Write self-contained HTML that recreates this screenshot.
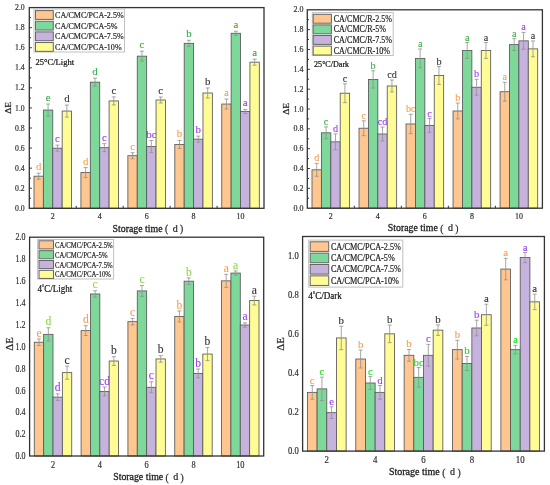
<!DOCTYPE html>
<html><head><meta charset="utf-8"><style>
html,body{margin:0;padding:0;background:#fff;width:550px;height:485px;overflow:hidden}
svg{display:block;filter:blur(0.35px)}
text{font-family:"Liberation Serif",serif}
</style></head><body>
<svg width="550" height="485" viewBox="0 0 550 485">
<rect width="550" height="485" fill="#fff"/>
<rect x="33.99" y="176.19" width="9.39" height="32.11" fill="#FFC690" stroke="#585858" stroke-width="0.85"/>
<path d="M38.69 173.18V179.2M36.69 173.18H40.69M36.69 179.2H40.69" stroke="#909090" stroke-width="0.8" fill="none"/>
<text x="38.69" y="170.18" text-anchor="middle" font-size="10.8" fill="#F5A050" stroke="#F5A050" stroke-width="0.12">d</text>
<rect x="43.38" y="110.06" width="9.39" height="98.24" fill="#7DD89A" stroke="#585858" stroke-width="0.85"/>
<path d="M48.08 104.04V116.08M46.08 104.04H50.08M46.08 116.08H50.08" stroke="#909090" stroke-width="0.8" fill="none"/>
<text x="48.08" y="101.04" text-anchor="middle" font-size="10.8" fill="#2DB04A" stroke="#2DB04A" stroke-width="0.12">e</text>
<rect x="52.77" y="148.19" width="9.39" height="60.11" fill="#C6B3DD" stroke="#585858" stroke-width="0.85"/>
<path d="M57.46 145.18V151.2M55.46 145.18H59.46M55.46 151.2H59.46" stroke="#909090" stroke-width="0.8" fill="none"/>
<text x="57.46" y="142.18" text-anchor="middle" font-size="10.8" fill="#A040F0" stroke="#A040F0" stroke-width="0.12">c</text>
<rect x="62.16" y="111.06" width="9.39" height="97.24" fill="#FFFB95" stroke="#585858" stroke-width="0.85"/>
<path d="M66.85 105.04V117.08M64.85 105.04H68.85M64.85 117.08H68.85" stroke="#909090" stroke-width="0.8" fill="none"/>
<text x="66.85" y="102.04" text-anchor="middle" font-size="10.8" fill="#333333" stroke="#333333" stroke-width="0.12">d</text>
<rect x="80.93" y="172.58" width="9.39" height="35.72" fill="#FFC690" stroke="#585858" stroke-width="0.85"/>
<path d="M85.63 167.56V177.59M83.63 167.56H87.63M83.63 177.59H87.63" stroke="#909090" stroke-width="0.8" fill="none"/>
<text x="85.63" y="164.56" text-anchor="middle" font-size="10.8" fill="#F5A050" stroke="#F5A050" stroke-width="0.12">d</text>
<rect x="90.32" y="82.16" width="9.39" height="126.14" fill="#7DD89A" stroke="#585858" stroke-width="0.85"/>
<path d="M95.02 78.15V86.17M93.02 78.15H97.02M93.02 86.17H97.02" stroke="#909090" stroke-width="0.8" fill="none"/>
<text x="95.02" y="75.15" text-anchor="middle" font-size="10.8" fill="#2DB04A" stroke="#2DB04A" stroke-width="0.12">d</text>
<rect x="99.71" y="147.69" width="9.39" height="60.61" fill="#C6B3DD" stroke="#585858" stroke-width="0.85"/>
<path d="M104.4 143.67V151.7M102.4 143.67H106.4M102.4 151.7H106.4" stroke="#909090" stroke-width="0.8" fill="none"/>
<text x="104.4" y="140.67" text-anchor="middle" font-size="10.8" fill="#A040F0" stroke="#A040F0" stroke-width="0.12">c</text>
<rect x="109.1" y="100.93" width="9.39" height="107.37" fill="#FFFB95" stroke="#585858" stroke-width="0.85"/>
<path d="M113.79 96.91V104.94M111.79 96.91H115.79M111.79 104.94H115.79" stroke="#909090" stroke-width="0.8" fill="none"/>
<text x="113.79" y="93.91" text-anchor="middle" font-size="10.8" fill="#333333" stroke="#333333" stroke-width="0.12">c</text>
<rect x="127.87" y="155.72" width="9.39" height="52.58" fill="#FFC690" stroke="#585858" stroke-width="0.85"/>
<path d="M132.57 152.71V158.73M130.57 152.71H134.57M130.57 158.73H134.57" stroke="#909090" stroke-width="0.8" fill="none"/>
<text x="132.57" y="149.71" text-anchor="middle" font-size="10.8" fill="#F5A050" stroke="#F5A050" stroke-width="0.12">c</text>
<rect x="137.26" y="56.17" width="9.39" height="152.13" fill="#7DD89A" stroke="#585858" stroke-width="0.85"/>
<path d="M141.96 51.15V61.19M139.96 51.15H143.96M139.96 61.19H143.96" stroke="#909090" stroke-width="0.8" fill="none"/>
<text x="141.96" y="48.15" text-anchor="middle" font-size="10.8" fill="#5BA033" stroke="#5BA033" stroke-width="0.12">c</text>
<rect x="146.65" y="146.58" width="9.39" height="61.72" fill="#C6B3DD" stroke="#585858" stroke-width="0.85"/>
<path d="M151.34 140.56V152.61M149.34 140.56H153.34M149.34 152.61H153.34" stroke="#909090" stroke-width="0.8" fill="none"/>
<text x="151.34" y="137.56" text-anchor="middle" font-size="10.8" fill="#A040F0" stroke="#A040F0" stroke-width="0.12">bc</text>
<rect x="156.04" y="100.02" width="9.39" height="108.28" fill="#FFFB95" stroke="#585858" stroke-width="0.85"/>
<path d="M160.73 97.01V103.03M158.73 97.01H162.73M158.73 103.03H162.73" stroke="#909090" stroke-width="0.8" fill="none"/>
<text x="160.73" y="94.01" text-anchor="middle" font-size="10.8" fill="#333333" stroke="#333333" stroke-width="0.12">c</text>
<rect x="174.81" y="144.48" width="9.39" height="63.82" fill="#FFC690" stroke="#585858" stroke-width="0.85"/>
<path d="M179.51 140.46V148.49M177.51 140.46H181.51M177.51 148.49H181.51" stroke="#909090" stroke-width="0.8" fill="none"/>
<text x="179.51" y="137.46" text-anchor="middle" font-size="10.8" fill="#F5A050" stroke="#F5A050" stroke-width="0.12">b</text>
<rect x="184.2" y="43.32" width="9.39" height="164.98" fill="#7DD89A" stroke="#585858" stroke-width="0.85"/>
<path d="M188.9 40.31V46.34M186.9 40.31H190.9M186.9 46.34H190.9" stroke="#909090" stroke-width="0.8" fill="none"/>
<text x="188.9" y="37.31" text-anchor="middle" font-size="10.8" fill="#2DB04A" stroke="#2DB04A" stroke-width="0.12">b</text>
<rect x="193.59" y="139.16" width="9.39" height="69.14" fill="#C6B3DD" stroke="#585858" stroke-width="0.85"/>
<path d="M198.28 136.15V142.17M196.28 136.15H200.28M196.28 142.17H200.28" stroke="#909090" stroke-width="0.8" fill="none"/>
<text x="198.28" y="133.15" text-anchor="middle" font-size="10.8" fill="#A040F0" stroke="#A040F0" stroke-width="0.12">b</text>
<rect x="202.98" y="93" width="9.39" height="115.3" fill="#FFFB95" stroke="#585858" stroke-width="0.85"/>
<path d="M207.67 87.98V98.02M205.67 87.98H209.67M205.67 98.02H209.67" stroke="#909090" stroke-width="0.8" fill="none"/>
<text x="207.67" y="84.98" text-anchor="middle" font-size="10.8" fill="#333333" stroke="#333333" stroke-width="0.12">b</text>
<rect x="221.75" y="104.04" width="9.39" height="104.26" fill="#FFC690" stroke="#585858" stroke-width="0.85"/>
<path d="M226.45 99.02V109.05M224.45 99.02H228.45M224.45 109.05H228.45" stroke="#909090" stroke-width="0.8" fill="none"/>
<text x="226.45" y="96.02" text-anchor="middle" font-size="10.8" fill="#F5A050" stroke="#F5A050" stroke-width="0.12">a</text>
<rect x="231.14" y="33.29" width="9.39" height="175.01" fill="#7DD89A" stroke="#585858" stroke-width="0.85"/>
<path d="M235.84 31.28V35.3M233.84 31.28H237.84M233.84 35.3H237.84" stroke="#909090" stroke-width="0.8" fill="none"/>
<text x="235.84" y="28.28" text-anchor="middle" font-size="10.8" fill="#6E9A30" stroke="#6E9A30" stroke-width="0.12">a</text>
<rect x="240.53" y="111.46" width="9.39" height="96.84" fill="#C6B3DD" stroke="#585858" stroke-width="0.85"/>
<path d="M245.22 109.46V113.47M243.22 109.46H247.22M243.22 113.47H247.22" stroke="#909090" stroke-width="0.8" fill="none"/>
<text x="245.22" y="106.46" text-anchor="middle" font-size="10.8" fill="#A040F0" stroke="#A040F0" stroke-width="0.12">a</text>
<rect x="249.92" y="62.19" width="9.39" height="146.11" fill="#FFFB95" stroke="#585858" stroke-width="0.85"/>
<path d="M254.61 59.18V65.2M252.61 59.18H256.61M252.61 65.2H256.61" stroke="#909090" stroke-width="0.8" fill="none"/>
<text x="254.61" y="56.18" text-anchor="middle" font-size="10.8" fill="#2DB04A" stroke="#2DB04A" stroke-width="0.12">a</text>
<rect x="29.3" y="7.6" width="234.7" height="200.7" fill="none" stroke="#333" stroke-width="1.3"/>
<path d="M29.3 198.27h1.7M29.3 188.23h2.6M29.3 178.19h1.7M29.3 168.16h2.6M29.3 158.12h1.7M29.3 148.09h2.6M29.3 138.06h1.7M29.3 128.02h2.6M29.3 117.98h1.7M29.3 107.95h2.6M29.3 97.91h1.7M29.3 87.88h2.6M29.3 77.84h1.7M29.3 67.81h2.6M29.3 57.78h1.7M29.3 47.74h2.6M29.3 37.7h1.7M29.3 27.67h2.6M29.3 17.63h1.7M76.24 208.3v-2.5M123.18 208.3v-2.5M170.12 208.3v-2.5M217.06 208.3v-2.5" stroke="#333" stroke-width="1" fill="none"/>
<text x="24.7" y="210.9" text-anchor="end" font-size="8.4" fill="#333" stroke="#333" stroke-width="0.2" textLength="9.66" lengthAdjust="spacingAndGlyphs">0.0</text>
<text x="24.7" y="190.83" text-anchor="end" font-size="8.4" fill="#333" stroke="#333" stroke-width="0.2" textLength="9.66" lengthAdjust="spacingAndGlyphs">0.2</text>
<text x="24.7" y="170.76" text-anchor="end" font-size="8.4" fill="#333" stroke="#333" stroke-width="0.2" textLength="9.66" lengthAdjust="spacingAndGlyphs">0.4</text>
<text x="24.7" y="150.69" text-anchor="end" font-size="8.4" fill="#333" stroke="#333" stroke-width="0.2" textLength="9.66" lengthAdjust="spacingAndGlyphs">0.6</text>
<text x="24.7" y="130.62" text-anchor="end" font-size="8.4" fill="#333" stroke="#333" stroke-width="0.2" textLength="9.66" lengthAdjust="spacingAndGlyphs">0.8</text>
<text x="24.7" y="110.55" text-anchor="end" font-size="8.4" fill="#333" stroke="#333" stroke-width="0.2" textLength="9.66" lengthAdjust="spacingAndGlyphs">1.0</text>
<text x="24.7" y="90.48" text-anchor="end" font-size="8.4" fill="#333" stroke="#333" stroke-width="0.2" textLength="9.66" lengthAdjust="spacingAndGlyphs">1.2</text>
<text x="24.7" y="70.41" text-anchor="end" font-size="8.4" fill="#333" stroke="#333" stroke-width="0.2" textLength="9.66" lengthAdjust="spacingAndGlyphs">1.4</text>
<text x="24.7" y="50.34" text-anchor="end" font-size="8.4" fill="#333" stroke="#333" stroke-width="0.2" textLength="9.66" lengthAdjust="spacingAndGlyphs">1.6</text>
<text x="24.7" y="30.27" text-anchor="end" font-size="8.4" fill="#333" stroke="#333" stroke-width="0.2" textLength="9.66" lengthAdjust="spacingAndGlyphs">1.8</text>
<text x="24.7" y="10.2" text-anchor="end" font-size="8.4" fill="#333" stroke="#333" stroke-width="0.2" textLength="9.66" lengthAdjust="spacingAndGlyphs">2.0</text>
<text x="52.77" y="219.1" text-anchor="middle" font-size="8.4" fill="#333" stroke="#333" stroke-width="0.2" textLength="3.99" lengthAdjust="spacingAndGlyphs">2</text>
<text x="99.71" y="219.1" text-anchor="middle" font-size="8.4" fill="#333" stroke="#333" stroke-width="0.2" textLength="3.99" lengthAdjust="spacingAndGlyphs">4</text>
<text x="146.65" y="219.1" text-anchor="middle" font-size="8.4" fill="#333" stroke="#333" stroke-width="0.2" textLength="3.99" lengthAdjust="spacingAndGlyphs">6</text>
<text x="193.59" y="219.1" text-anchor="middle" font-size="8.4" fill="#333" stroke="#333" stroke-width="0.2" textLength="3.99" lengthAdjust="spacingAndGlyphs">8</text>
<text x="240.53" y="219.1" text-anchor="middle" font-size="8.4" fill="#333" stroke="#333" stroke-width="0.2" textLength="7.98" lengthAdjust="spacingAndGlyphs">10</text>
<text x="112.6" y="231.5" font-size="10" fill="#222" stroke="#222" stroke-width="0.3" textLength="50" lengthAdjust="spacingAndGlyphs">Storage time</text>
<text x="166.6" y="232.1" font-size="9.6" fill="#222" stroke="#222" stroke-width="0.2" text-anchor="middle">(</text>
<text x="175.2" y="231.5" font-size="10" fill="#222" stroke="#222" stroke-width="0.2" text-anchor="middle">d</text>
<text x="181.6" y="232.1" font-size="9.6" fill="#222" stroke="#222" stroke-width="0.2" text-anchor="middle">)</text>
<text transform="translate(10.84 107.85) rotate(-90)" text-anchor="middle" font-size="9.2" fill="#222" stroke="#222" stroke-width="0.2" textLength="11.9" lengthAdjust="spacingAndGlyphs">ΔE</text>
<rect x="34" y="9" width="90.5" height="43" fill="#fff" stroke="#c0c0c0" stroke-width="1"/>
<rect x="35.5" y="10.6" width="17.8" height="8.8" fill="#FFC690" stroke="#666" stroke-width="1"/>
<text x="55.1" y="18" font-size="9.2" fill="#222" stroke="#222" stroke-width="0.2" textLength="68.5" lengthAdjust="spacingAndGlyphs">CA/CMC/PCA-2.5%</text>
<rect x="35.5" y="21.25" width="17.8" height="8.8" fill="#7DD89A" stroke="#666" stroke-width="1"/>
<text x="55.1" y="28.65" font-size="9.2" fill="#222" stroke="#222" stroke-width="0.2" textLength="62.48" lengthAdjust="spacingAndGlyphs">CA/CMC/PCA-5%</text>
<rect x="35.5" y="31.9" width="17.8" height="8.8" fill="#C6B3DD" stroke="#666" stroke-width="1"/>
<text x="55.1" y="39.3" font-size="9.2" fill="#222" stroke="#222" stroke-width="0.2" textLength="68.5" lengthAdjust="spacingAndGlyphs">CA/CMC/PCA-7.5%</text>
<rect x="35.5" y="42.55" width="17.8" height="8.8" fill="#FFFB95" stroke="#666" stroke-width="1"/>
<text x="55.1" y="49.95" font-size="9.2" fill="#222" stroke="#222" stroke-width="0.2" textLength="66.49" lengthAdjust="spacingAndGlyphs">CA/CMC/PCA-10%</text>
<text x="35.5" y="64.7" font-size="9.2" fill="#111" textLength="38.6" lengthAdjust="spacingAndGlyphs" stroke="#111" stroke-width="0.22">25°C/Light</text>
<rect x="312" y="169.81" width="9.4" height="38.39" fill="#FFC690" stroke="#585858" stroke-width="0.85"/>
<path d="M316.7 163.36V176.26M314.7 163.36H318.7M314.7 176.26H318.7" stroke="#909090" stroke-width="0.8" fill="none"/>
<text x="316.7" y="161.36" text-anchor="middle" font-size="10.2" fill="#F5A050" stroke="#F5A050" stroke-width="0.12">d</text>
<rect x="321.41" y="132.81" width="9.4" height="75.39" fill="#7DD89A" stroke="#585858" stroke-width="0.85"/>
<path d="M326.11 126.86V138.76M324.11 126.86H328.11M324.11 138.76H328.11" stroke="#909090" stroke-width="0.8" fill="none"/>
<text x="326.11" y="124.86" text-anchor="middle" font-size="10.2" fill="#3CB043" stroke="#3CB043" stroke-width="0.12">c</text>
<rect x="330.81" y="141.84" width="9.4" height="66.36" fill="#C6B3DD" stroke="#585858" stroke-width="0.85"/>
<path d="M335.51 133.9V149.77M333.51 133.9H337.51M333.51 149.77H337.51" stroke="#909090" stroke-width="0.8" fill="none"/>
<text x="335.51" y="131.9" text-anchor="middle" font-size="10.2" fill="#A040F0" stroke="#A040F0" stroke-width="0.12">d</text>
<rect x="340.21" y="93.23" width="9.4" height="114.97" fill="#FFFB95" stroke="#585858" stroke-width="0.85"/>
<path d="M344.92 83.8V102.65M342.92 83.8H346.92M342.92 102.65H346.92" stroke="#909090" stroke-width="0.8" fill="none"/>
<text x="344.92" y="81.8" text-anchor="middle" font-size="10.2" fill="#333333" stroke="#333333" stroke-width="0.12">c</text>
<rect x="359.02" y="128.24" width="9.4" height="79.96" fill="#FFC690" stroke="#585858" stroke-width="0.85"/>
<path d="M363.72 120.8V135.68M361.72 120.8H365.72M361.72 135.68H365.72" stroke="#909090" stroke-width="0.8" fill="none"/>
<text x="363.72" y="118.8" text-anchor="middle" font-size="10.2" fill="#F5A050" stroke="#F5A050" stroke-width="0.12">c</text>
<rect x="368.43" y="79.44" width="9.4" height="128.76" fill="#7DD89A" stroke="#585858" stroke-width="0.85"/>
<path d="M373.13 70.81V88.07M371.13 70.81H375.13M371.13 88.07H375.13" stroke="#909090" stroke-width="0.8" fill="none"/>
<text x="373.13" y="68.81" text-anchor="middle" font-size="10.2" fill="#3CB043" stroke="#3CB043" stroke-width="0.12">b</text>
<rect x="377.83" y="134" width="9.4" height="74.2" fill="#C6B3DD" stroke="#585858" stroke-width="0.85"/>
<path d="M382.53 127.05V140.94M380.53 127.05H384.53M380.53 140.94H384.53" stroke="#909090" stroke-width="0.8" fill="none"/>
<text x="382.53" y="125.05" text-anchor="middle" font-size="10.2" fill="#A040F0" stroke="#A040F0" stroke-width="0.12">cd</text>
<rect x="387.23" y="85.99" width="9.4" height="122.21" fill="#FFFB95" stroke="#585858" stroke-width="0.85"/>
<path d="M391.94 80.03V91.94M389.94 80.03H393.94M389.94 91.94H393.94" stroke="#909090" stroke-width="0.8" fill="none"/>
<text x="391.94" y="78.03" text-anchor="middle" font-size="10.2" fill="#333333" stroke="#333333" stroke-width="0.12">cd</text>
<rect x="406.04" y="123.98" width="9.4" height="84.22" fill="#FFC690" stroke="#585858" stroke-width="0.85"/>
<path d="M410.74 114.26V133.7M408.74 114.26H412.74M408.74 133.7H412.74" stroke="#909090" stroke-width="0.8" fill="none"/>
<text x="410.74" y="112.26" text-anchor="middle" font-size="10.2" fill="#F5A050" stroke="#F5A050" stroke-width="0.12">bc</text>
<rect x="415.45" y="58.41" width="9.4" height="149.79" fill="#7DD89A" stroke="#585858" stroke-width="0.85"/>
<path d="M420.15 48.98V67.83M418.15 48.98H422.15M418.15 67.83H422.15" stroke="#909090" stroke-width="0.8" fill="none"/>
<text x="420.15" y="46.98" text-anchor="middle" font-size="10.2" fill="#3CB043" stroke="#3CB043" stroke-width="0.12">a</text>
<rect x="424.85" y="125.47" width="9.4" height="82.73" fill="#C6B3DD" stroke="#585858" stroke-width="0.85"/>
<path d="M429.55 118.52V132.41M427.55 118.52H431.55M427.55 132.41H431.55" stroke="#909090" stroke-width="0.8" fill="none"/>
<text x="429.55" y="116.52" text-anchor="middle" font-size="10.2" fill="#A040F0" stroke="#A040F0" stroke-width="0.12">c</text>
<rect x="434.25" y="75.47" width="9.4" height="132.73" fill="#FFFB95" stroke="#585858" stroke-width="0.85"/>
<path d="M438.96 66.54V84.4M436.96 66.54H440.96M436.96 84.4H440.96" stroke="#909090" stroke-width="0.8" fill="none"/>
<text x="438.96" y="64.54" text-anchor="middle" font-size="10.2" fill="#333333" stroke="#333333" stroke-width="0.12">b</text>
<rect x="453.06" y="110.98" width="9.4" height="97.22" fill="#FFC690" stroke="#585858" stroke-width="0.85"/>
<path d="M457.76 103.05V118.92M455.76 103.05H459.76M455.76 118.92H459.76" stroke="#909090" stroke-width="0.8" fill="none"/>
<text x="457.76" y="101.05" text-anchor="middle" font-size="10.2" fill="#F5A050" stroke="#F5A050" stroke-width="0.12">b</text>
<rect x="462.47" y="50.47" width="9.4" height="157.73" fill="#7DD89A" stroke="#585858" stroke-width="0.85"/>
<path d="M467.17 42.54V58.41M465.17 42.54H469.17M465.17 58.41H469.17" stroke="#909090" stroke-width="0.8" fill="none"/>
<text x="467.17" y="40.54" text-anchor="middle" font-size="10.2" fill="#3CB043" stroke="#3CB043" stroke-width="0.12">a</text>
<rect x="471.87" y="87.28" width="9.4" height="120.92" fill="#C6B3DD" stroke="#585858" stroke-width="0.85"/>
<path d="M476.57 79.34V95.21M474.57 79.34H478.57M474.57 95.21H478.57" stroke="#909090" stroke-width="0.8" fill="none"/>
<text x="476.57" y="77.34" text-anchor="middle" font-size="10.2" fill="#A040F0" stroke="#A040F0" stroke-width="0.12">b</text>
<rect x="481.27" y="50.47" width="9.4" height="157.73" fill="#FFFB95" stroke="#585858" stroke-width="0.85"/>
<path d="M485.98 42.54V58.41M483.98 42.54H487.98M483.98 58.41H487.98" stroke="#909090" stroke-width="0.8" fill="none"/>
<text x="485.98" y="40.54" text-anchor="middle" font-size="10.2" fill="#333333" stroke="#333333" stroke-width="0.12">a</text>
<rect x="500.08" y="91.74" width="9.4" height="116.46" fill="#FFC690" stroke="#585858" stroke-width="0.85"/>
<path d="M504.78 82.32V101.16M502.78 82.32H506.78M502.78 101.16H506.78" stroke="#909090" stroke-width="0.8" fill="none"/>
<text x="504.78" y="80.32" text-anchor="middle" font-size="10.2" fill="#F5A050" stroke="#F5A050" stroke-width="0.12">a</text>
<rect x="509.49" y="44.62" width="9.4" height="163.58" fill="#7DD89A" stroke="#585858" stroke-width="0.85"/>
<path d="M514.19 38.67V50.57M512.19 38.67H516.19M512.19 50.57H516.19" stroke="#909090" stroke-width="0.8" fill="none"/>
<text x="514.19" y="36.67" text-anchor="middle" font-size="10.2" fill="#3CB043" stroke="#3CB043" stroke-width="0.12">a</text>
<rect x="518.89" y="40.85" width="9.4" height="167.35" fill="#C6B3DD" stroke="#585858" stroke-width="0.85"/>
<path d="M523.59 32.42V49.28M521.59 32.42H525.59M521.59 49.28H525.59" stroke="#909090" stroke-width="0.8" fill="none"/>
<text x="523.59" y="30.42" text-anchor="middle" font-size="10.2" fill="#A040F0" stroke="#A040F0" stroke-width="0.12">a</text>
<rect x="528.29" y="48.88" width="9.4" height="159.32" fill="#FFFB95" stroke="#585858" stroke-width="0.85"/>
<path d="M533 40.95V56.82M531 40.95H535M531 56.82H535" stroke="#909090" stroke-width="0.8" fill="none"/>
<text x="533" y="38.95" text-anchor="middle" font-size="10.2" fill="#333333" stroke="#333333" stroke-width="0.12">a</text>
<rect x="307.3" y="9.8" width="235.1" height="198.4" fill="none" stroke="#333" stroke-width="1.3"/>
<path d="M307.3 198.28h1.7M307.3 188.36h2.6M307.3 178.44h1.7M307.3 168.52h2.6M307.3 158.6h1.7M307.3 148.68h2.6M307.3 138.76h1.7M307.3 128.84h2.6M307.3 118.92h1.7M307.3 109h2.6M307.3 99.08h1.7M307.3 89.16h2.6M307.3 79.24h1.7M307.3 69.32h2.6M307.3 59.4h1.7M307.3 49.48h2.6M307.3 39.56h1.7M307.3 29.64h2.6M307.3 19.72h1.7M354.32 208.2v-2.5M401.34 208.2v-2.5M448.36 208.2v-2.5M495.38 208.2v-2.5" stroke="#333" stroke-width="1" fill="none"/>
<text x="303.4" y="210.8" text-anchor="end" font-size="8.4" fill="#333" stroke="#333" stroke-width="0.2" textLength="9.97" lengthAdjust="spacingAndGlyphs">0.0</text>
<text x="303.4" y="190.96" text-anchor="end" font-size="8.4" fill="#333" stroke="#333" stroke-width="0.2" textLength="9.97" lengthAdjust="spacingAndGlyphs">0.2</text>
<text x="303.4" y="171.12" text-anchor="end" font-size="8.4" fill="#333" stroke="#333" stroke-width="0.2" textLength="9.97" lengthAdjust="spacingAndGlyphs">0.4</text>
<text x="303.4" y="151.28" text-anchor="end" font-size="8.4" fill="#333" stroke="#333" stroke-width="0.2" textLength="9.97" lengthAdjust="spacingAndGlyphs">0.6</text>
<text x="303.4" y="131.44" text-anchor="end" font-size="8.4" fill="#333" stroke="#333" stroke-width="0.2" textLength="9.97" lengthAdjust="spacingAndGlyphs">0.8</text>
<text x="303.4" y="111.6" text-anchor="end" font-size="8.4" fill="#333" stroke="#333" stroke-width="0.2" textLength="9.97" lengthAdjust="spacingAndGlyphs">1.0</text>
<text x="303.4" y="91.76" text-anchor="end" font-size="8.4" fill="#333" stroke="#333" stroke-width="0.2" textLength="9.97" lengthAdjust="spacingAndGlyphs">1.2</text>
<text x="303.4" y="71.92" text-anchor="end" font-size="8.4" fill="#333" stroke="#333" stroke-width="0.2" textLength="9.97" lengthAdjust="spacingAndGlyphs">1.4</text>
<text x="303.4" y="52.08" text-anchor="end" font-size="8.4" fill="#333" stroke="#333" stroke-width="0.2" textLength="9.97" lengthAdjust="spacingAndGlyphs">1.6</text>
<text x="303.4" y="32.24" text-anchor="end" font-size="8.4" fill="#333" stroke="#333" stroke-width="0.2" textLength="9.97" lengthAdjust="spacingAndGlyphs">1.8</text>
<text x="303.4" y="12.4" text-anchor="end" font-size="8.4" fill="#333" stroke="#333" stroke-width="0.2" textLength="9.97" lengthAdjust="spacingAndGlyphs">2.0</text>
<text x="330.81" y="219" text-anchor="middle" font-size="8.4" fill="#333" stroke="#333" stroke-width="0.2" textLength="3.99" lengthAdjust="spacingAndGlyphs">2</text>
<text x="377.83" y="219" text-anchor="middle" font-size="8.4" fill="#333" stroke="#333" stroke-width="0.2" textLength="3.99" lengthAdjust="spacingAndGlyphs">4</text>
<text x="424.85" y="219" text-anchor="middle" font-size="8.4" fill="#333" stroke="#333" stroke-width="0.2" textLength="3.99" lengthAdjust="spacingAndGlyphs">6</text>
<text x="471.87" y="219" text-anchor="middle" font-size="8.4" fill="#333" stroke="#333" stroke-width="0.2" textLength="3.99" lengthAdjust="spacingAndGlyphs">8</text>
<text x="518.89" y="219" text-anchor="middle" font-size="8.4" fill="#333" stroke="#333" stroke-width="0.2" textLength="7.98" lengthAdjust="spacingAndGlyphs">10</text>
<text x="387.8" y="230.9" font-size="10" fill="#222" stroke="#222" stroke-width="0.3" textLength="50" lengthAdjust="spacingAndGlyphs">Storage time</text>
<text x="441.8" y="231.5" font-size="9.6" fill="#222" stroke="#222" stroke-width="0.2" text-anchor="middle">(</text>
<text x="450.4" y="230.9" font-size="10" fill="#222" stroke="#222" stroke-width="0.2" text-anchor="middle">d</text>
<text x="456.8" y="231.5" font-size="9.6" fill="#222" stroke="#222" stroke-width="0.2" text-anchor="middle">)</text>
<text transform="translate(289.17 108.9) rotate(-90)" text-anchor="middle" font-size="9.0" fill="#222" stroke="#222" stroke-width="0.2" textLength="11.8" lengthAdjust="spacingAndGlyphs">ΔE</text>
<rect x="312.3" y="12.6" width="80.9" height="42.9" fill="#fff" stroke="#c0c0c0" stroke-width="1"/>
<rect x="313.2" y="14.3" width="18.2" height="8.9" fill="#FFC690" stroke="#666" stroke-width="1"/>
<text x="333.7" y="21.75" font-size="9.3" fill="#222" stroke="#222" stroke-width="0.2" textLength="58.2" lengthAdjust="spacingAndGlyphs">CA/CMC/R-2.5%</text>
<rect x="313.2" y="24.9" width="18.2" height="8.9" fill="#7DD89A" stroke="#666" stroke-width="1"/>
<text x="333.7" y="32.35" font-size="9.3" fill="#222" stroke="#222" stroke-width="0.2" textLength="52.18" lengthAdjust="spacingAndGlyphs">CA/CMC/R-5%</text>
<rect x="313.2" y="35.5" width="18.2" height="8.9" fill="#C6B3DD" stroke="#666" stroke-width="1"/>
<text x="333.7" y="42.95" font-size="9.3" fill="#222" stroke="#222" stroke-width="0.2" textLength="58.2" lengthAdjust="spacingAndGlyphs">CA/CMC/R-7.5%</text>
<rect x="313.2" y="46.1" width="18.2" height="8.9" fill="#FFFB95" stroke="#666" stroke-width="1"/>
<text x="333.7" y="53.55" font-size="9.3" fill="#222" stroke="#222" stroke-width="0.2" textLength="56.19" lengthAdjust="spacingAndGlyphs">CA/CMC/R-10%</text>
<text x="314.1" y="66.8" font-size="8.8" fill="#111" textLength="35" lengthAdjust="spacingAndGlyphs" stroke="#111" stroke-width="0.22">25°C/Dark</text>
<rect x="34.28" y="342.22" width="9.36" height="113.78" fill="#FFC690" stroke="#585858" stroke-width="0.85"/>
<path d="M38.96 338.94V345.51M36.96 338.94H40.96M36.96 345.51H40.96" stroke="#909090" stroke-width="0.8" fill="none"/>
<text x="38.96" y="336.54" text-anchor="middle" font-size="11.6" fill="#F5A050" stroke="#F5A050" stroke-width="0.12">e</text>
<rect x="43.65" y="334.35" width="9.36" height="121.65" fill="#7DD89A" stroke="#585858" stroke-width="0.85"/>
<path d="M48.33 327.78V340.91M46.33 327.78H50.33M46.33 340.91H50.33" stroke="#909090" stroke-width="0.8" fill="none"/>
<text x="48.33" y="325.38" text-anchor="middle" font-size="11.6" fill="#8FD84A" stroke="#8FD84A" stroke-width="0.12">d</text>
<rect x="53.01" y="397.14" width="9.36" height="58.86" fill="#C6B3DD" stroke="#585858" stroke-width="0.85"/>
<path d="M57.69 393.86V400.42M55.69 393.86H59.69M55.69 400.42H59.69" stroke="#909090" stroke-width="0.8" fill="none"/>
<text x="57.69" y="391.46" text-anchor="middle" font-size="11.6" fill="#A040F0" stroke="#A040F0" stroke-width="0.12">d</text>
<rect x="62.37" y="372.64" width="9.36" height="83.36" fill="#FFFB95" stroke="#585858" stroke-width="0.85"/>
<path d="M67.06 366.07V379.2M65.06 366.07H69.06M65.06 379.2H69.06" stroke="#909090" stroke-width="0.8" fill="none"/>
<text x="67.06" y="363.67" text-anchor="middle" font-size="11.6" fill="#333333" stroke="#333333" stroke-width="0.12">c</text>
<rect x="81.1" y="330.63" width="9.36" height="125.37" fill="#FFC690" stroke="#585858" stroke-width="0.85"/>
<path d="M85.78 325.7V335.55M83.78 325.7H87.78M83.78 335.55H87.78" stroke="#909090" stroke-width="0.8" fill="none"/>
<text x="85.78" y="323.3" text-anchor="middle" font-size="11.6" fill="#F5A050" stroke="#F5A050" stroke-width="0.12">d</text>
<rect x="90.47" y="293.98" width="9.36" height="162.02" fill="#7DD89A" stroke="#585858" stroke-width="0.85"/>
<path d="M95.15 290.7V297.26M93.15 290.7H97.15M93.15 297.26H97.15" stroke="#909090" stroke-width="0.8" fill="none"/>
<text x="95.15" y="288.3" text-anchor="middle" font-size="11.6" fill="#8FD84A" stroke="#8FD84A" stroke-width="0.12">c</text>
<rect x="99.83" y="391.45" width="9.36" height="64.55" fill="#C6B3DD" stroke="#585858" stroke-width="0.85"/>
<path d="M104.51 387.08V395.83M102.51 387.08H106.51M102.51 395.83H106.51" stroke="#909090" stroke-width="0.8" fill="none"/>
<text x="104.51" y="384.68" text-anchor="middle" font-size="11.6" fill="#A040F0" stroke="#A040F0" stroke-width="0.12">cd</text>
<rect x="109.19" y="361.04" width="9.36" height="94.96" fill="#FFFB95" stroke="#585858" stroke-width="0.85"/>
<path d="M113.88 356.66V365.42M111.88 356.66H115.88M111.88 365.42H115.88" stroke="#909090" stroke-width="0.8" fill="none"/>
<text x="113.88" y="354.26" text-anchor="middle" font-size="11.6" fill="#333333" stroke="#333333" stroke-width="0.12">b</text>
<rect x="127.92" y="321.66" width="9.36" height="134.34" fill="#FFC690" stroke="#585858" stroke-width="0.85"/>
<path d="M132.6 318.37V324.94M130.6 318.37H134.6M130.6 324.94H134.6" stroke="#909090" stroke-width="0.8" fill="none"/>
<text x="132.6" y="315.97" text-anchor="middle" font-size="11.6" fill="#F5A050" stroke="#F5A050" stroke-width="0.12">c</text>
<rect x="137.29" y="290.92" width="9.36" height="165.08" fill="#7DD89A" stroke="#585858" stroke-width="0.85"/>
<path d="M141.97 285.45V296.39M139.97 285.45H143.97M139.97 296.39H143.97" stroke="#909090" stroke-width="0.8" fill="none"/>
<text x="141.97" y="283.05" text-anchor="middle" font-size="11.6" fill="#8FD84A" stroke="#8FD84A" stroke-width="0.12">c</text>
<rect x="146.65" y="387.3" width="9.36" height="68.7" fill="#C6B3DD" stroke="#585858" stroke-width="0.85"/>
<path d="M151.33 381.83V392.77M149.33 381.83H153.33M149.33 392.77H153.33" stroke="#909090" stroke-width="0.8" fill="none"/>
<text x="151.33" y="379.43" text-anchor="middle" font-size="11.6" fill="#A040F0" stroke="#A040F0" stroke-width="0.12">c</text>
<rect x="156.01" y="358.96" width="9.36" height="97.04" fill="#FFFB95" stroke="#585858" stroke-width="0.85"/>
<path d="M160.7 355.68V362.24M158.7 355.68H162.7M158.7 362.24H162.7" stroke="#909090" stroke-width="0.8" fill="none"/>
<text x="160.7" y="353.28" text-anchor="middle" font-size="11.6" fill="#333333" stroke="#333333" stroke-width="0.12">b</text>
<rect x="174.74" y="316.41" width="9.36" height="139.59" fill="#FFC690" stroke="#585858" stroke-width="0.85"/>
<path d="M179.42 310.94V321.88M177.42 310.94H181.42M177.42 321.88H181.42" stroke="#909090" stroke-width="0.8" fill="none"/>
<text x="179.42" y="308.54" text-anchor="middle" font-size="11.6" fill="#F5A050" stroke="#F5A050" stroke-width="0.12">b</text>
<rect x="184.11" y="281.18" width="9.36" height="174.82" fill="#7DD89A" stroke="#585858" stroke-width="0.85"/>
<path d="M188.79 277.9V284.46M186.79 277.9H190.79M186.79 284.46H190.79" stroke="#909090" stroke-width="0.8" fill="none"/>
<text x="188.79" y="275.5" text-anchor="middle" font-size="11.6" fill="#8FD84A" stroke="#8FD84A" stroke-width="0.12">b</text>
<rect x="193.47" y="373.4" width="9.36" height="82.6" fill="#C6B3DD" stroke="#585858" stroke-width="0.85"/>
<path d="M198.15 369.03V377.78M196.15 369.03H200.15M196.15 377.78H200.15" stroke="#909090" stroke-width="0.8" fill="none"/>
<text x="198.15" y="366.63" text-anchor="middle" font-size="11.6" fill="#A040F0" stroke="#A040F0" stroke-width="0.12">b</text>
<rect x="202.83" y="354.04" width="9.36" height="101.96" fill="#FFFB95" stroke="#585858" stroke-width="0.85"/>
<path d="M207.52 347.48V360.6M205.52 347.48H209.52M205.52 360.6H209.52" stroke="#909090" stroke-width="0.8" fill="none"/>
<text x="207.52" y="345.08" text-anchor="middle" font-size="11.6" fill="#333333" stroke="#333333" stroke-width="0.12">b</text>
<rect x="221.56" y="280.85" width="9.36" height="175.15" fill="#FFC690" stroke="#585858" stroke-width="0.85"/>
<path d="M226.24 274.29V287.41M224.24 274.29H228.24M224.24 287.41H228.24" stroke="#909090" stroke-width="0.8" fill="none"/>
<text x="226.24" y="271.89" text-anchor="middle" font-size="11.6" fill="#F5A050" stroke="#F5A050" stroke-width="0.12">a</text>
<rect x="230.93" y="273.08" width="9.36" height="182.92" fill="#7DD89A" stroke="#585858" stroke-width="0.85"/>
<path d="M235.61 270.9V275.27M233.61 270.9H237.61M233.61 275.27H237.61" stroke="#909090" stroke-width="0.8" fill="none"/>
<text x="235.61" y="268.5" text-anchor="middle" font-size="11.6" fill="#8FD84A" stroke="#8FD84A" stroke-width="0.12">a</text>
<rect x="240.29" y="325.05" width="9.36" height="130.95" fill="#C6B3DD" stroke="#585858" stroke-width="0.85"/>
<path d="M244.97 322.86V327.24M242.97 322.86H246.97M242.97 327.24H246.97" stroke="#909090" stroke-width="0.8" fill="none"/>
<text x="244.97" y="320.46" text-anchor="middle" font-size="11.6" fill="#A040F0" stroke="#A040F0" stroke-width="0.12">a</text>
<rect x="249.65" y="300.54" width="9.36" height="155.46" fill="#FFFB95" stroke="#585858" stroke-width="0.85"/>
<path d="M254.34 296.17V304.92M252.34 296.17H256.34M252.34 304.92H256.34" stroke="#909090" stroke-width="0.8" fill="none"/>
<text x="254.34" y="293.77" text-anchor="middle" font-size="11.6" fill="#333333" stroke="#333333" stroke-width="0.12">a</text>
<rect x="29.6" y="237.2" width="234.1" height="218.8" fill="none" stroke="#333" stroke-width="1.3"/>
<text x="25.4" y="459.2" text-anchor="end" font-size="9.4" fill="#333" stroke="#333" stroke-width="0.2" textLength="9.99" lengthAdjust="spacingAndGlyphs">0.0</text>
<text x="25.4" y="437.32" text-anchor="end" font-size="9.4" fill="#333" stroke="#333" stroke-width="0.2" textLength="9.99" lengthAdjust="spacingAndGlyphs">0.2</text>
<text x="25.4" y="415.44" text-anchor="end" font-size="9.4" fill="#333" stroke="#333" stroke-width="0.2" textLength="9.99" lengthAdjust="spacingAndGlyphs">0.4</text>
<text x="25.4" y="393.56" text-anchor="end" font-size="9.4" fill="#333" stroke="#333" stroke-width="0.2" textLength="9.99" lengthAdjust="spacingAndGlyphs">0.6</text>
<text x="25.4" y="371.68" text-anchor="end" font-size="9.4" fill="#333" stroke="#333" stroke-width="0.2" textLength="9.99" lengthAdjust="spacingAndGlyphs">0.8</text>
<text x="25.4" y="349.8" text-anchor="end" font-size="9.4" fill="#333" stroke="#333" stroke-width="0.2" textLength="9.99" lengthAdjust="spacingAndGlyphs">1.0</text>
<text x="25.4" y="327.92" text-anchor="end" font-size="9.4" fill="#333" stroke="#333" stroke-width="0.2" textLength="9.99" lengthAdjust="spacingAndGlyphs">1.2</text>
<text x="25.4" y="306.04" text-anchor="end" font-size="9.4" fill="#333" stroke="#333" stroke-width="0.2" textLength="9.99" lengthAdjust="spacingAndGlyphs">1.4</text>
<text x="25.4" y="284.16" text-anchor="end" font-size="9.4" fill="#333" stroke="#333" stroke-width="0.2" textLength="9.99" lengthAdjust="spacingAndGlyphs">1.6</text>
<text x="25.4" y="262.28" text-anchor="end" font-size="9.4" fill="#333" stroke="#333" stroke-width="0.2" textLength="9.99" lengthAdjust="spacingAndGlyphs">1.8</text>
<text x="25.4" y="240.4" text-anchor="end" font-size="9.4" fill="#333" stroke="#333" stroke-width="0.2" textLength="9.99" lengthAdjust="spacingAndGlyphs">2.0</text>
<text x="53.01" y="468.1" text-anchor="middle" font-size="9.8" fill="#333" stroke="#333" stroke-width="0.2" textLength="4.17" lengthAdjust="spacingAndGlyphs">2</text>
<text x="99.83" y="468.1" text-anchor="middle" font-size="9.8" fill="#333" stroke="#333" stroke-width="0.2" textLength="4.17" lengthAdjust="spacingAndGlyphs">4</text>
<text x="146.65" y="468.1" text-anchor="middle" font-size="9.8" fill="#333" stroke="#333" stroke-width="0.2" textLength="4.17" lengthAdjust="spacingAndGlyphs">6</text>
<text x="193.47" y="468.1" text-anchor="middle" font-size="9.8" fill="#333" stroke="#333" stroke-width="0.2" textLength="4.17" lengthAdjust="spacingAndGlyphs">8</text>
<text x="240.29" y="468.1" text-anchor="middle" font-size="9.8" fill="#333" stroke="#333" stroke-width="0.2" textLength="8.33" lengthAdjust="spacingAndGlyphs">10</text>
<text x="113.2" y="480.2" font-size="10" fill="#222" stroke="#222" stroke-width="0.3" textLength="50" lengthAdjust="spacingAndGlyphs">Storage time</text>
<text x="167.2" y="480.8" font-size="9.6" fill="#222" stroke="#222" stroke-width="0.2" text-anchor="middle">(</text>
<text x="175.8" y="480.2" font-size="10" fill="#222" stroke="#222" stroke-width="0.2" text-anchor="middle">d</text>
<text x="182.2" y="480.8" font-size="9.6" fill="#222" stroke="#222" stroke-width="0.2" text-anchor="middle">)</text>
<text transform="translate(13.16 344.05) rotate(-90)" text-anchor="middle" font-size="10.5" fill="#222" stroke="#222" stroke-width="0.2" textLength="13.3" lengthAdjust="spacingAndGlyphs">ΔE</text>
<rect x="37.6" y="239.5" width="76" height="39.5" fill="#fff" stroke="#c0c0c0" stroke-width="1"/>
<rect x="39" y="240.8" width="14.5" height="8.1" fill="#FFC690" stroke="#666" stroke-width="1"/>
<text x="55.1" y="247.85" font-size="8.3" fill="#222" stroke="#222" stroke-width="0.2" textLength="57.6" lengthAdjust="spacingAndGlyphs">CA/CMC/PCA-2.5%</text>
<rect x="39" y="250.65" width="14.5" height="8.1" fill="#7DD89A" stroke="#666" stroke-width="1"/>
<text x="55.1" y="257.7" font-size="8.3" fill="#222" stroke="#222" stroke-width="0.2" textLength="52.53" lengthAdjust="spacingAndGlyphs">CA/CMC/PCA-5%</text>
<rect x="39" y="260.5" width="14.5" height="8.1" fill="#C6B3DD" stroke="#666" stroke-width="1"/>
<text x="55.1" y="267.55" font-size="8.3" fill="#222" stroke="#222" stroke-width="0.2" textLength="57.6" lengthAdjust="spacingAndGlyphs">CA/CMC/PCA-7.5%</text>
<rect x="39" y="270.35" width="14.5" height="8.1" fill="#FFFB95" stroke="#666" stroke-width="1"/>
<text x="55.1" y="277.4" font-size="8.3" fill="#222" stroke="#222" stroke-width="0.2" textLength="55.91" lengthAdjust="spacingAndGlyphs">CA/CMC/PCA-10%</text>
<text x="37.6" y="292.2" font-size="11" fill="#111" stroke="#111" stroke-width="0.2" textLength="34.6" lengthAdjust="spacingAndGlyphs">4<tspan font-size="6.5" dy="-3.2">°</tspan><tspan dy="3.2">C/Light</tspan></text>
<rect x="307.44" y="392.38" width="9.67" height="58.72" fill="#FFC690" stroke="#585858" stroke-width="0.85"/>
<path d="M312.27 385.55V399.21M310.27 385.55H314.27M310.27 399.21H314.27" stroke="#909090" stroke-width="0.8" fill="none"/>
<text x="312.27" y="383.55" text-anchor="middle" font-size="10.8" fill="#F5A050" stroke="#F5A050" stroke-width="0.12">c</text>
<rect x="317.11" y="388.87" width="9.67" height="62.23" fill="#7DD89A" stroke="#585858" stroke-width="0.85"/>
<path d="M321.94 377.16V400.57M319.94 377.16H323.94M319.94 400.57H323.94" stroke="#909090" stroke-width="0.8" fill="none"/>
<text x="321.94" y="375.16" text-anchor="middle" font-size="10.8" fill="#22DD22" stroke="#22DD22" stroke-width="0.12">c</text>
<rect x="326.78" y="412.67" width="9.67" height="38.43" fill="#C6B3DD" stroke="#585858" stroke-width="0.85"/>
<path d="M331.62 406.81V418.52M329.62 406.81H333.62M329.62 418.52H333.62" stroke="#909090" stroke-width="0.8" fill="none"/>
<text x="331.62" y="404.81" text-anchor="middle" font-size="10.8" fill="#A040F0" stroke="#A040F0" stroke-width="0.12">e</text>
<rect x="336.45" y="337.95" width="9.67" height="113.15" fill="#FFFB95" stroke="#585858" stroke-width="0.85"/>
<path d="M341.29 326.24V349.65M339.29 326.24H343.29M339.29 349.65H343.29" stroke="#909090" stroke-width="0.8" fill="none"/>
<text x="341.29" y="324.24" text-anchor="middle" font-size="10.8" fill="#333333" stroke="#333333" stroke-width="0.12">b</text>
<rect x="355.8" y="359.02" width="9.67" height="92.08" fill="#FFC690" stroke="#585858" stroke-width="0.85"/>
<path d="M360.63 350.04V367.99M358.63 350.04H362.63M358.63 367.99H362.63" stroke="#909090" stroke-width="0.8" fill="none"/>
<text x="360.63" y="348.04" text-anchor="middle" font-size="10.8" fill="#F5A050" stroke="#F5A050" stroke-width="0.12">b</text>
<rect x="365.47" y="383.01" width="9.67" height="68.09" fill="#7DD89A" stroke="#585858" stroke-width="0.85"/>
<path d="M370.3 376.58V389.45M368.3 376.58H372.3M368.3 389.45H372.3" stroke="#909090" stroke-width="0.8" fill="none"/>
<text x="370.3" y="374.58" text-anchor="middle" font-size="10.8" fill="#22DD22" stroke="#22DD22" stroke-width="0.12">c</text>
<rect x="375.14" y="392.38" width="9.67" height="58.72" fill="#C6B3DD" stroke="#585858" stroke-width="0.85"/>
<path d="M379.98 385.55V399.21M377.98 385.55H381.98M377.98 399.21H381.98" stroke="#909090" stroke-width="0.8" fill="none"/>
<text x="379.98" y="383.55" text-anchor="middle" font-size="10.8" fill="#A040F0" stroke="#A040F0" stroke-width="0.12">d</text>
<rect x="384.81" y="333.85" width="9.67" height="117.25" fill="#FFFB95" stroke="#585858" stroke-width="0.85"/>
<path d="M389.65 325.07V342.63M387.65 325.07H391.65M387.65 342.63H391.65" stroke="#909090" stroke-width="0.8" fill="none"/>
<text x="389.65" y="323.07" text-anchor="middle" font-size="10.8" fill="#333333" stroke="#333333" stroke-width="0.12">b</text>
<rect x="404.16" y="355.31" width="9.67" height="95.79" fill="#FFC690" stroke="#585858" stroke-width="0.85"/>
<path d="M408.99 349.46V361.16M406.99 349.46H410.99M406.99 361.16H410.99" stroke="#909090" stroke-width="0.8" fill="none"/>
<text x="408.99" y="347.46" text-anchor="middle" font-size="10.8" fill="#F5A050" stroke="#F5A050" stroke-width="0.12">b</text>
<rect x="413.83" y="377.36" width="9.67" height="73.74" fill="#7DD89A" stroke="#585858" stroke-width="0.85"/>
<path d="M418.66 367.6V387.11M416.66 367.6H420.66M416.66 387.11H420.66" stroke="#909090" stroke-width="0.8" fill="none"/>
<text x="418.66" y="365.6" text-anchor="middle" font-size="10.8" fill="#22DD22" stroke="#22DD22" stroke-width="0.12">bc</text>
<rect x="423.5" y="355.31" width="9.67" height="95.79" fill="#C6B3DD" stroke="#585858" stroke-width="0.85"/>
<path d="M428.34 344.39V366.24M426.34 344.39H430.34M426.34 366.24H430.34" stroke="#909090" stroke-width="0.8" fill="none"/>
<text x="428.34" y="342.39" text-anchor="middle" font-size="10.8" fill="#A040F0" stroke="#A040F0" stroke-width="0.12">c</text>
<rect x="433.17" y="330.14" width="9.67" height="120.96" fill="#FFFB95" stroke="#585858" stroke-width="0.85"/>
<path d="M438.01 324.88V335.41M436.01 324.88H440.01M436.01 335.41H440.01" stroke="#909090" stroke-width="0.8" fill="none"/>
<text x="438.01" y="322.88" text-anchor="middle" font-size="10.8" fill="#333333" stroke="#333333" stroke-width="0.12">b</text>
<rect x="452.52" y="349.65" width="9.67" height="101.45" fill="#FFC690" stroke="#585858" stroke-width="0.85"/>
<path d="M457.35 340.29V359.02M455.35 340.29H459.35M455.35 359.02H459.35" stroke="#909090" stroke-width="0.8" fill="none"/>
<text x="457.35" y="338.29" text-anchor="middle" font-size="10.8" fill="#F5A050" stroke="#F5A050" stroke-width="0.12">b</text>
<rect x="462.19" y="363.5" width="9.67" height="87.6" fill="#7DD89A" stroke="#585858" stroke-width="0.85"/>
<path d="M467.02 356.48V370.53M465.02 356.48H469.02M465.02 370.53H469.02" stroke="#909090" stroke-width="0.8" fill="none"/>
<text x="467.02" y="354.48" text-anchor="middle" font-size="10.8" fill="#22DD22" stroke="#22DD22" stroke-width="0.12">b</text>
<rect x="471.86" y="328" width="9.67" height="123.1" fill="#C6B3DD" stroke="#585858" stroke-width="0.85"/>
<path d="M476.7 320.19V335.8M474.7 320.19H478.7M474.7 335.8H478.7" stroke="#909090" stroke-width="0.8" fill="none"/>
<text x="476.7" y="318.19" text-anchor="middle" font-size="10.8" fill="#A040F0" stroke="#A040F0" stroke-width="0.12">b</text>
<rect x="481.53" y="314.73" width="9.67" height="136.37" fill="#FFFB95" stroke="#585858" stroke-width="0.85"/>
<path d="M486.37 304.2V325.27M484.37 304.2H488.37M484.37 325.27H488.37" stroke="#909090" stroke-width="0.8" fill="none"/>
<text x="486.37" y="302.2" text-anchor="middle" font-size="10.8" fill="#333333" stroke="#333333" stroke-width="0.12">a</text>
<rect x="500.88" y="269.08" width="9.67" height="182.02" fill="#FFC690" stroke="#585858" stroke-width="0.85"/>
<path d="M505.71 258.35V279.81M503.71 258.35H507.71M503.71 279.81H507.71" stroke="#909090" stroke-width="0.8" fill="none"/>
<text x="505.71" y="256.35" text-anchor="middle" font-size="10.8" fill="#F5A050" stroke="#F5A050" stroke-width="0.12">a</text>
<rect x="510.55" y="349.65" width="9.67" height="101.45" fill="#7DD89A" stroke="#585858" stroke-width="0.85"/>
<path d="M515.38 345.36V353.94M513.38 345.36H517.38M513.38 353.94H517.38" stroke="#909090" stroke-width="0.8" fill="none"/>
<text x="515.38" y="343.36" text-anchor="middle" font-size="10.8" fill="#22DD22" stroke="#22DD22" stroke-width="0.12">a</text>
<rect x="520.22" y="257.57" width="9.67" height="193.53" fill="#C6B3DD" stroke="#585858" stroke-width="0.85"/>
<path d="M525.06 252.5V262.64M523.06 252.5H527.06M523.06 262.64H527.06" stroke="#909090" stroke-width="0.8" fill="none"/>
<text x="525.06" y="250.5" text-anchor="middle" font-size="10.8" fill="#A040F0" stroke="#A040F0" stroke-width="0.12">a</text>
<rect x="529.89" y="301.86" width="9.67" height="149.24" fill="#FFFB95" stroke="#585858" stroke-width="0.85"/>
<path d="M534.73 294.05V309.66M532.73 294.05H536.73M532.73 309.66H536.73" stroke="#909090" stroke-width="0.8" fill="none"/>
<text x="534.73" y="292.05" text-anchor="middle" font-size="10.8" fill="#333333" stroke="#333333" stroke-width="0.12">a</text>
<rect x="302.6" y="236.5" width="241.8" height="214.6" fill="none" stroke="#333" stroke-width="1.3"/>
<text x="298.8" y="453.8" text-anchor="end" font-size="9.3" fill="#333" stroke="#333" stroke-width="0.2" textLength="10.7" lengthAdjust="spacingAndGlyphs">0.0</text>
<text x="298.8" y="414.78" text-anchor="end" font-size="9.3" fill="#333" stroke="#333" stroke-width="0.2" textLength="10.7" lengthAdjust="spacingAndGlyphs">0.2</text>
<text x="298.8" y="375.76" text-anchor="end" font-size="9.3" fill="#333" stroke="#333" stroke-width="0.2" textLength="10.7" lengthAdjust="spacingAndGlyphs">0.4</text>
<text x="298.8" y="336.75" text-anchor="end" font-size="9.3" fill="#333" stroke="#333" stroke-width="0.2" textLength="10.7" lengthAdjust="spacingAndGlyphs">0.6</text>
<text x="298.8" y="297.73" text-anchor="end" font-size="9.3" fill="#333" stroke="#333" stroke-width="0.2" textLength="10.7" lengthAdjust="spacingAndGlyphs">0.8</text>
<text x="298.8" y="258.71" text-anchor="end" font-size="9.3" fill="#333" stroke="#333" stroke-width="0.2" textLength="10.7" lengthAdjust="spacingAndGlyphs">1.0</text>
<text x="326.78" y="463" text-anchor="middle" font-size="9.8" fill="#333" stroke="#333" stroke-width="0.2" textLength="4.41" lengthAdjust="spacingAndGlyphs">2</text>
<text x="375.14" y="463" text-anchor="middle" font-size="9.8" fill="#333" stroke="#333" stroke-width="0.2" textLength="4.41" lengthAdjust="spacingAndGlyphs">4</text>
<text x="423.5" y="463" text-anchor="middle" font-size="9.8" fill="#333" stroke="#333" stroke-width="0.2" textLength="4.41" lengthAdjust="spacingAndGlyphs">6</text>
<text x="471.86" y="463" text-anchor="middle" font-size="9.8" fill="#333" stroke="#333" stroke-width="0.2" textLength="4.41" lengthAdjust="spacingAndGlyphs">8</text>
<text x="520.22" y="463" text-anchor="middle" font-size="9.8" fill="#333" stroke="#333" stroke-width="0.2" textLength="8.82" lengthAdjust="spacingAndGlyphs">10</text>
<text x="388.9" y="475.4" font-size="10" fill="#222" stroke="#222" stroke-width="0.3" textLength="50.85" lengthAdjust="spacingAndGlyphs">Storage time</text>
<text x="443.82" y="476" font-size="9.6" fill="#222" stroke="#222" stroke-width="0.2" text-anchor="middle">(</text>
<text x="452.56" y="475.4" font-size="10" fill="#222" stroke="#222" stroke-width="0.2" text-anchor="middle">d</text>
<text x="459.07" y="476" font-size="9.6" fill="#222" stroke="#222" stroke-width="0.2" text-anchor="middle">)</text>
<text transform="translate(284 344.05) rotate(-90)" text-anchor="middle" font-size="10.3" fill="#222" stroke="#222" stroke-width="0.2" textLength="13.3" lengthAdjust="spacingAndGlyphs">ΔE</text>
<rect x="308.7" y="240.1" width="94.1" height="47" fill="#fff" stroke="#c0c0c0" stroke-width="1"/>
<rect x="310.2" y="241.8" width="18.5" height="9.6" fill="#FFC690" stroke="#666" stroke-width="1"/>
<text x="330.9" y="249.6" font-size="9.6" fill="#222" stroke="#222" stroke-width="0.2" textLength="70" lengthAdjust="spacingAndGlyphs">CA/CMC/PCA-2.5%</text>
<rect x="310.2" y="253.15" width="18.5" height="9.6" fill="#7DD89A" stroke="#666" stroke-width="1"/>
<text x="330.9" y="260.95" font-size="9.6" fill="#222" stroke="#222" stroke-width="0.2" textLength="63.84" lengthAdjust="spacingAndGlyphs">CA/CMC/PCA-5%</text>
<rect x="310.2" y="264.5" width="18.5" height="9.6" fill="#C6B3DD" stroke="#666" stroke-width="1"/>
<text x="330.9" y="272.3" font-size="9.6" fill="#222" stroke="#222" stroke-width="0.2" textLength="70" lengthAdjust="spacingAndGlyphs">CA/CMC/PCA-7.5%</text>
<rect x="310.2" y="275.85" width="18.5" height="9.6" fill="#FFFB95" stroke="#666" stroke-width="1"/>
<text x="330.9" y="283.65" font-size="9.6" fill="#222" stroke="#222" stroke-width="0.2" textLength="67.95" lengthAdjust="spacingAndGlyphs">CA/CMC/PCA-10%</text>
<text x="308.2" y="299.1" font-size="9.6" fill="#111" stroke="#111" stroke-width="0.2" textLength="33.6" lengthAdjust="spacingAndGlyphs">4<tspan font-size="6.5" dy="-3.2">°</tspan><tspan dy="3.2">C/Dark</tspan></text>
</svg></body></html>
